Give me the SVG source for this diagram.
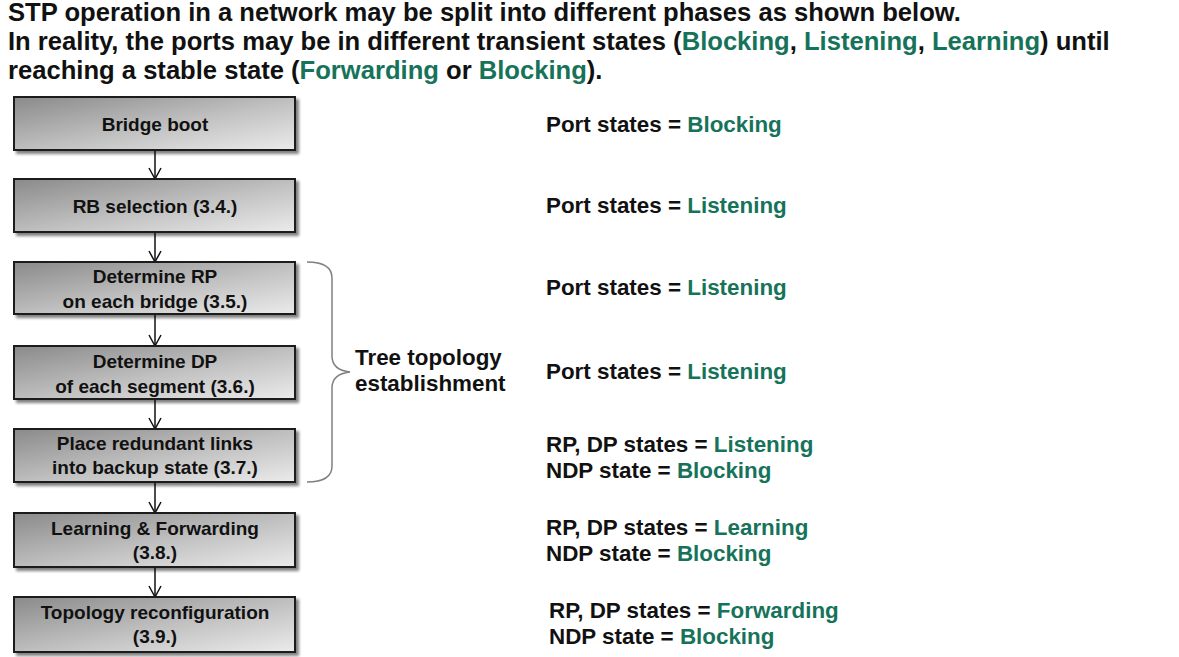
<svg xmlns="http://www.w3.org/2000/svg" width="1179" height="657" viewBox="0 0 1179 657">
<defs>
<linearGradient id="g" x1="0" y1="0" x2="1" y2="1">
<stop offset="0" stop-color="#8a8a8a"/>
<stop offset="0.55" stop-color="#c2c2c2"/>
<stop offset="1" stop-color="#ebebeb"/>
</linearGradient>
<filter id="sh" x="-5%" y="-10%" width="115%" height="130%">
<feGaussianBlur in="SourceAlpha" stdDeviation="1.5"/>
<feOffset dx="3" dy="3" result="b"/>
<feComponentTransfer><feFuncA type="linear" slope="0.5"/></feComponentTransfer>
<feMerge><feMergeNode/><feMergeNode in="SourceGraphic"/></feMerge>
</filter>
<marker id="arr" markerWidth="14" markerHeight="14" refX="12" refY="7" orient="auto" markerUnits="userSpaceOnUse">
<path d="M1,1 L12,7 L1,13" fill="none" stroke="#111" stroke-width="1.5"/>
</marker>
</defs>
<style>
text{font-family:"Liberation Sans",Arial,sans-serif;font-weight:bold;fill:#111}
.t{font-size:25.6px}
.b{font-size:19px;text-anchor:middle}
.r{font-size:22.4px}
.g{fill:#16735a}
.box{fill:url(#g);stroke:#1a1a1a;stroke-width:2;filter:url(#sh)}
.c{stroke:#111;stroke-width:1.5;fill:none}
</style>
<rect width="1179" height="657" fill="#fff"/>
<g id="title">
<text class="t" x="8" y="21">STP operation in a network may be split into different phases as shown below.</text>
<text class="t" x="8" y="50">In reality, the ports may be in different transient states (<tspan class="g">Blocking</tspan>, <tspan class="g">Listening</tspan>, <tspan class="g">Learning</tspan>) until</text>
<text class="t" x="8" y="79">reaching a stable state (<tspan class="g">Forwarding</tspan> or <tspan class="g">Blocking</tspan>).</text>
</g>
<g id="connectors">
<line class="c" x1="155" y1="150" x2="155" y2="179" marker-end="url(#arr)"/>
<line class="c" x1="155" y1="232" x2="155" y2="262" marker-end="url(#arr)"/>
<line class="c" x1="155" y1="314" x2="155" y2="346" marker-end="url(#arr)"/>
<line class="c" x1="155" y1="399" x2="155" y2="429" marker-end="url(#arr)"/>
<line class="c" x1="155" y1="482" x2="155" y2="513" marker-end="url(#arr)"/>
<line class="c" x1="155" y1="567" x2="155" y2="597" marker-end="url(#arr)"/>
</g>
<g id="n1"><rect class="box" x="14" y="97" width="281" height="53"/><text class="b" x="155" y="131">Bridge boot</text></g>
<g id="n2"><rect class="box" x="14" y="179" width="281" height="53"/><text class="b" x="155" y="213">RB selection (3.4.)</text></g>
<g id="n3"><rect class="box" x="14" y="262" width="281" height="52"/><text class="b" x="155" y="283">Determine RP</text><text class="b" x="155" y="308">on each bridge (3.5.)</text></g>
<g id="n4"><rect class="box" x="14" y="346" width="281" height="53"/><text class="b" x="155" y="368">Determine DP</text><text class="b" x="155" y="393">of each segment (3.6.)</text></g>
<g id="n5"><rect class="box" x="14" y="429" width="281" height="53"/><text class="b" x="155" y="450">Place redundant links</text><text class="b" x="155" y="474">into backup state (3.7.)</text></g>
<g id="n6"><rect class="box" x="14" y="513" width="281" height="54"/><text class="b" x="155" y="535">Learning &amp; Forwarding</text><text class="b" x="155" y="559">(3.8.)</text></g>
<g id="n7"><rect class="box" x="14" y="597" width="281" height="55"/><text class="b" x="155" y="619">Topology reconfiguration</text><text class="b" x="155" y="643">(3.9.)</text></g>
<g id="brace">
<path d="M307,262 Q332,262 332,278 L332,356 Q332,370 350,372 Q332,374 332,388 L332,466 Q332,482 307,482" fill="none" stroke="#808080" stroke-width="1.5"/>
<text class="r" x="355" y="365">Tree topology</text>
<text class="r" x="355" y="391">establishment</text>
</g>
<g id="states">
<text class="r" x="546" y="132">Port states = <tspan class="g">Blocking</tspan></text>
<text class="r" x="546" y="213">Port states = <tspan class="g">Listening</tspan></text>
<text class="r" x="546" y="295">Port states = <tspan class="g">Listening</tspan></text>
<text class="r" x="546" y="379">Port states = <tspan class="g">Listening</tspan></text>
<text class="r" x="546" y="452">RP, DP states = <tspan class="g">Listening</tspan></text>
<text class="r" x="546" y="478">NDP state = <tspan class="g">Blocking</tspan></text>
<text class="r" x="546" y="535">RP, DP states = <tspan class="g">Learning</tspan></text>
<text class="r" x="546" y="561">NDP state = <tspan class="g">Blocking</tspan></text>
<text class="r" x="549" y="618">RP, DP states = <tspan class="g">Forwarding</tspan></text>
<text class="r" x="549" y="644">NDP state = <tspan class="g">Blocking</tspan></text>
</g>
</svg>
